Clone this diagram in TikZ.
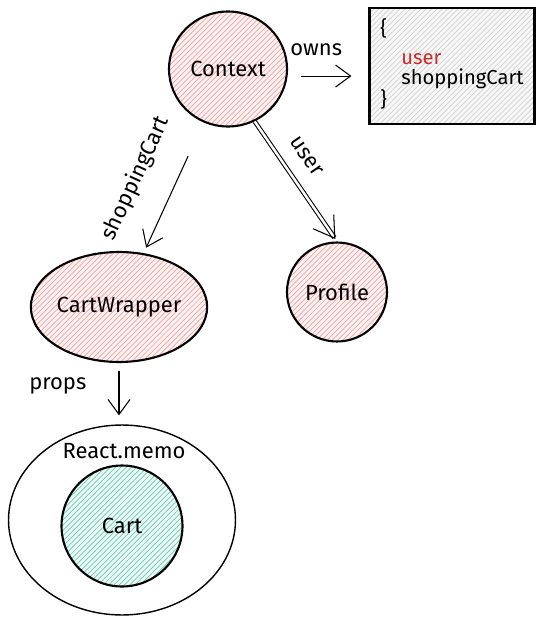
\documentclass[tikz,border=0pt]{standalone}
\usepackage{fontspec}
\setmainfont{Fira Sans}
\usetikzlibrary{positioning, arrows.meta, shapes.geometric, patterns}
\definecolor{hatchred}{HTML}{EFA3A3}
\definecolor{hatchteal}{HTML}{5FD3AE}
\definecolor{usered}{HTML}{C92A2A}
\tikzset{
->, % every connector gets a head
>={Straight Barb[length=3mm, width=4.4mm]}, % open sketchy heads
every node/.style={font=\fontsize{12.5}{14}\selectfont}, % one text size for all labels
blob/.style={ellipse, draw, very thick, inner sep=0pt, preaction={fill=red!5}, pattern=north east lines, pattern color=hatchred}, % pink hatched component
memoblob/.style={ellipse, draw, very thick, inner sep=0pt, preaction={fill=teal!6}, pattern=north east lines, pattern color=hatchteal}, % teal hatched component
notebox/.style={rectangle, draw, very thick, inner sep=0pt, preaction={fill=gray!6}, pattern=north east lines, pattern color=gray!35}, % state box
boxline/.style={anchor=west, inner sep=0pt, font=\fontsize{11.5}{13}\selectfont}, % lines inside the state box
link/.style={semithick}, % connector lines
}

\begin{document}
\begin{tikzpicture}[x=0.02cm, y=-0.02cm]
                \useasboundingbox (0,0) rectangle (544,625);

                \node[blob, minimum width=2.36cm, minimum height=2.3cm] (ctx) at (228,69) {Context};
                \node[notebox, minimum width=3.3cm, minimum height=2.32cm] (store) at (452,66) {};
                \node[boxline] (open) at (380,28) {\{};
                \node[boxline, text=usered] (usr) at (401,59) {user};
                \node[boxline] (cartfield) at (401,79) {shoppingCart};
                \node[boxline] (close) at (380,99) {\}};

                \node[blob, minimum width=2.8cm, minimum height=2.2cm] (cw) at (119,307) {CartWrapper};
                \node[blob, minimum width=2cm, minimum height=1.98cm] (prof) at (337,292) {Profile};

                \node[ellipse, draw, thick, minimum width=4.54cm, minimum height=3.8cm] (memo) at (122,520) {};
                \node (memolbl) at (124,451) {React.memo};
                \node[memoblob, minimum width=2.42cm, minimum height=2.42cm] (cart) at (122,526) {Cart};

                \draw[link, shorten <=0.26cm, shorten >=0.34cm] ([yshift=-4pt]ctx.east) -- node[above=8pt, pos=0.35]{owns} ([yshift=-4pt]ctx.east -| store.west);
                \draw[link, shorten <=0.74cm, shorten >=0.12cm] (ctx) -- node[sloped, above=12pt, pos=0.55]{shoppingCart} (cw);
                \draw[link, double, double distance=1.4pt, shorten >=0.06cm, >={Straight Barb[length=4mm, width=5mm]}] (ctx.-63) -- node[sloped, above=6pt, pos=0.4]{user} (prof.north);
                \draw[link, shorten <=0.16cm, shorten >=0.18cm] (cw.south) -- node[left=15pt, pos=0.38]{props} (cw.south |- memo.north);
            \end{tikzpicture}
\end{document}
